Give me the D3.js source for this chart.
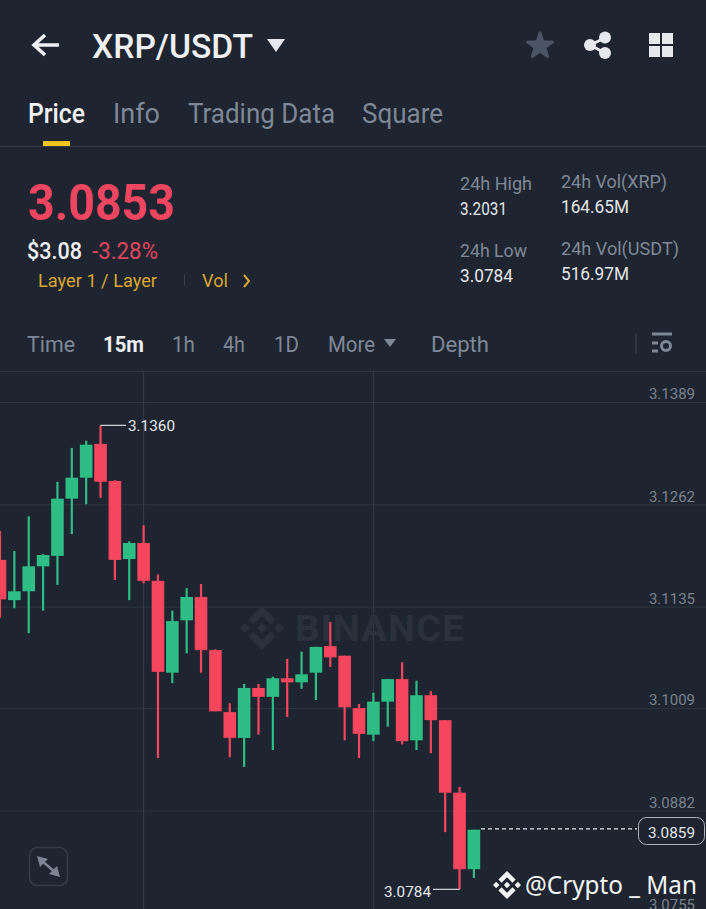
<!DOCTYPE html>
<html>
<head>
<meta charset="utf-8">
<script src="https://cdn.jsdelivr.net/npm/d3@7"></script>
<style>
  html, body { margin: 0; padding: 0; background: #1e2530; overflow: hidden; }
  svg { display: block; font-family: Roboto, sans-serif; }
</style>
</head>
<body>
<div id="chart"></div>
<script>
// 15m candles, left to right
const opens  = [3.1193,3.1143,3.1154,3.1185,3.1198,3.1269,3.1295,3.1337,3.1291,3.1194,3.1214,3.1167,3.1053,3.1118,3.1147,3.1081,3.1004,3.0972,3.1034,3.1023,3.1046,3.1041,3.1053,3.1086,3.1074,3.1009,3.0976,3.1017,3.1045,3.0969,3.1025,3.0994,3.0904,3.0809];
const closes = [3.1144,3.1154,3.1185,3.1199,3.1269,3.1295,3.1336,3.1290,3.1193,3.1214,3.1167,3.1054,3.1117,3.1147,3.1081,3.1005,3.0972,3.1034,3.1023,3.1046,3.1041,3.1051,3.1085,3.1072,3.1010,3.0977,3.1017,3.1045,3.0968,3.1025,3.0994,3.0904,3.0809,3.0858];
const highs  = [3.1229,3.1204,3.1247,3.1200,3.1290,3.1332,3.1341,3.1360,3.1292,3.1216,3.1236,3.1175,3.1130,3.1158,3.1163,3.1082,3.1015,3.1039,3.1039,3.1048,3.1070,3.1079,3.1085,3.1116,3.1074,3.1014,3.1028,3.1045,3.1066,3.1043,3.1030,3.0994,3.0911,3.0858];
const lows   = [3.1121,3.1133,3.1102,3.1130,3.1162,3.1225,3.1262,3.1270,3.1168,3.1143,3.1164,3.0947,3.1040,3.1077,3.1053,3.1005,3.0948,3.0936,3.0976,3.0957,3.0998,3.1033,3.1019,3.1060,3.0969,3.0947,3.0968,3.0986,3.0964,3.0957,3.0953,3.0855,3.0784,3.0798];

const priceTicks = [3.1389,3.1262,3.1135,3.1009,3.0882,3.0755];
const timeTicks = [10,26];
const lastPrice = 3.0859;
const highMark = { index: 7, price: 3.1360 };
const lowMark = { index: 32, price: 3.0784 };

const tabs = ["Price","Info","Trading Data","Square"];
const intervals = ["Time","15m","1h","4h","1D","More","Depth"];

const width = 706, height = 909;
const red = "#f6465d", green = "#2ebd85", grey = "#7f8896", white = "#eef0f3", gold = "#d9a62e";

const svg = d3.select("#chart").append("svg").attr("width", width).attr("height", height);

// plain text helper, textLength keeps the narrow look of the app font
function label(txt, x, y, size, fill, w, weight) {
  const t = svg.append("text").attr("x", x).attr("y", y)
    .attr("font-size", size).attr("fill", fill).attr("font-weight", weight || 400).text(txt);
  if (w) t.attr("textLength", w).attr("lengthAdjust", "spacingAndGlyphs");
  return t;
}

const logoPaths = [
  "M38.73 53.2l24.59-24.58 24.6 24.6 14.3-14.31L63.32 0 24.43 38.9 38.73 53.2z",
  "M0 63.31l14.3-14.31 14.31 14.31-14.31 14.3z",
  "M38.73 73.41l24.59 24.59 24.6-24.6 14.31 14.29-38.9 38.91-38.91-38.88-.02-.02 14.33-14.29z",
  "M98.01 63.31l14.3-14.31 14.31 14.31-14.31 14.3z",
  "M77.83 63.3L63.32 48.78 52.59 59.51l-1.24 1.23-2.54 2.54 14.51 14.5 14.51-14.47z"
];
function logo(cx, cy, size, fill) {
  const k = size / 126.61;
  svg.append("g").attr("transform", `translate(${cx - size / 2},${cy - size / 2}) scale(${k})`)
    .selectAll("path").data(logoPaths).enter().append("path").attr("d", d => d).attr("fill", fill);
}

// ---- header ----
svg.append("path").attr("d", "M59 45H35M45 35L34 45L45 55").attr("fill", "none")
  .attr("stroke", white).attr("stroke-width", 3.6);
label("XRP/USDT", 92, 58, 33, white, 161, 500);
svg.append("path").attr("d", "M267 39H285L276 52Z").attr("fill", "#e6e8ec");

const star = d3.symbol().type(d3.symbolStar).size(190);
svg.append("path").attr("d", star()).attr("transform", "translate(540,46)")
  .attr("fill", "#4a5464").attr("stroke", "#4a5464").attr("stroke-width", 3).attr("stroke-linejoin", "round");

svg.append("path").attr("d", "M605 38L590 45L605 53").attr("fill", "none").attr("stroke", "#e6e8ec").attr("stroke-width", 3);
[[605, 37.5], [590, 45], [605, 53]].forEach(c => {
  svg.append("circle").attr("cx", c[0]).attr("cy", c[1]).attr("r", 6).attr("fill", "#e6e8ec");
});
[[649, 33], [662, 33], [649, 46], [662, 46]].forEach(c => {
  svg.append("rect").attr("x", c[0]).attr("y", c[1]).attr("width", 11).attr("height", 11).attr("fill", "#e6e8ec");
});

// ---- tabs ----
const tabX = [28, 113, 188, 362], tabW = [57, 47, 147, 81];
tabs.forEach((t, i) => label(t, tabX[i], 123, 27, i == 0 ? white : grey, tabW[i], i == 0 ? 500 : 400));
svg.append("rect").attr("x", 43).attr("y", 141).attr("width", 27).attr("height", 5).attr("fill", "#f0c419");
svg.append("line").attr("x1", 0).attr("x2", width).attr("y1", 146.5).attr("y2", 146.5).attr("stroke", "#353c47");

// ---- price block ----
label("3.0853", 28, 220, 50, "#ee4560", 147, 700);
label("$3.08", 27, 259, 23, white, 55, 500);
label("-3.28%", 92, 259, 23, "#e0455f", 66);
label("Layer 1 / Layer", 38, 287, 19, gold, 119);
svg.append("line").attr("x1", 184.5).attr("x2", 184.5).attr("y1", 275).attr("y2", 285).attr("stroke", "#3a414c");
label("Vol", 202, 287, 19, gold, 26);
svg.append("path").attr("d", "M244 275L249 281L244 287").attr("fill", "none").attr("stroke", gold).attr("stroke-width", 2);

label("24h High", 460, 190, 19, grey, 72);
label("3.2031", 460, 215, 18.5, "#e4e7eb", 47);
label("24h Vol(XRP)", 561, 188, 19, grey, 106);
label("164.65M", 561, 213, 18.5, "#e4e7eb", 68);
label("24h Low", 460, 257, 19, grey, 67);
label("3.0784", 460, 282, 18.5, "#e4e7eb", 53);
label("24h Vol(USDT)", 561, 255, 19, grey, 118);
label("516.97M", 561, 280, 18.5, "#e4e7eb", 68);

// ---- interval row ----
const intX = [27, 103, 172, 223, 274, 328, 431], intW = [48, 41, 23, 22, 25, 47, 58];
intervals.forEach((t, i) => label(t, intX[i], 352, 21.5, i == 1 ? white : grey, intW[i], i == 1 ? 700 : 400));
svg.append("path").attr("d", "M384 339H396L390 347Z").attr("fill", grey);
svg.append("line").attr("x1", 636).attr("x2", 636).attr("y1", 333).attr("y2", 354).attr("stroke", "#3a414c");
svg.append("path").attr("d", "M652 334H672M652 343H658M652 351H658").attr("stroke", grey).attr("stroke-width", 3).attr("fill", "none");
svg.append("circle").attr("cx", 666).attr("cy", 346).attr("r", 4.5).attr("fill", "none").attr("stroke", grey).attr("stroke-width", 3);
svg.append("line").attr("x1", 0).attr("x2", width).attr("y1", 371.5).attr("y2", 371.5).attr("stroke", "#2f3641");

// ---- chart ----
const y = d3.scaleLinear().domain([3.1389, 3.0755]).range([402, 912.7]);
const x = d3.scaleLinear().domain([0, 33]).range([0, 473.9]);

const gridY = svg.append("g").attr("transform", "translate(0,0)")
  .call(d3.axisRight(y).tickValues(priceTicks).tickSize(width).tickFormat(""));
gridY.select(".domain").remove();
gridY.selectAll("line").attr("stroke", "#2d343e");

const gridX = svg.append("g").attr("transform", "translate(-0.5,372)")
  .call(d3.axisBottom(x).tickValues(timeTicks).tickSize(537).tickFormat(""));
gridX.select(".domain").remove();
gridX.selectAll("line").attr("stroke", "#363d48");

// watermark
logo(262, 628, 44, "#2b313c");
label("BINANCE", 295, 641, 36, "#2b313c", 170, 700).attr("letter-spacing", 1);

const axisY = svg.append("g").attr("transform", "translate(695,0)")
  .call(d3.axisLeft(y).tickValues(priceTicks).tickSize(0).tickPadding(0).tickFormat(d3.format(".4f")));
axisY.select(".domain").remove();
axisY.selectAll("text").attr("y", -8).attr("fill", "#7b828e").attr("font-size", 15)
  .attr("font-family", "Roboto, sans-serif");

const candles = svg.append("g").selectAll("g").data(opens).enter().append("g")
  .attr("fill", (d, i) => closes[i] >= d ? green : red);
candles.append("rect")
  .attr("x", (d, i) => x(i) - 1.1).attr("width", 2.2)
  .attr("y", (d, i) => y(highs[i]))
  .attr("height", (d, i) => y(lows[i]) - y(highs[i]));
candles.append("rect")
  .attr("x", (d, i) => x(i) - 6.3).attr("width", 12.6)
  .attr("y", (d, i) => y(Math.max(d, closes[i])))
  .attr("height", (d, i) => Math.max(2, Math.abs(y(d) - y(closes[i]))));

// high and low markers
svg.append("line").attr("x1", x(highMark.index)).attr("x2", 126)
  .attr("y1", y(highMark.price)).attr("y2", y(highMark.price)).attr("stroke", "#d5d8dd").attr("stroke-width", 1.2);
label(d3.format(".4f")(highMark.price), 128, y(highMark.price) + 6, 15, "#e4e7eb", 47);
svg.append("line").attr("x1", x(lowMark.index)).attr("x2", 433)
  .attr("y1", y(lowMark.price)).attr("y2", y(lowMark.price)).attr("stroke", "#d5d8dd").attr("stroke-width", 1.2);
label(d3.format(".4f")(lowMark.price), 384, y(lowMark.price) + 8, 15, "#e4e7eb", 47);

// last price
svg.append("line").attr("x1", 481).attr("x2", 637).attr("y1", y(lastPrice)).attr("y2", y(lastPrice))
  .attr("stroke", "#e8eaed").attr("stroke-width", 1.2).attr("stroke-dasharray", "4 3");
svg.append("rect").attr("x", 638.5).attr("y", 817.5).attr("width", 66).attr("height", 27).attr("rx", 8)
  .attr("fill", "#1e2530").attr("stroke", "#aeb2b9");
label(d3.format(".4f")(lastPrice), 648, 838, 15, "#e4e7eb", 47);

// expand button
svg.append("rect").attr("x", 29.5).attr("y", 847.5).attr("width", 38).attr("height", 38).attr("rx", 8)
  .attr("fill", "none").attr("stroke", "#343b47").attr("stroke-width", 1.6);
svg.append("path").attr("d", "M37 856L48 859L40 867ZM60 877L49 874L57 866Z").attr("fill", "#7d8594");
svg.append("path").attr("d", "M42 861L55 872").attr("stroke", "#7d8594").attr("stroke-width", 2.4);

// credit over the chart
logo(507, 885, 28, "#f2f3f5");
label("@Crypto _ Man", 525, 894, 26, "#f5f6f7", 172).attr("font-family", "'Noto Sans', sans-serif");
</script>
</body>
</html>
